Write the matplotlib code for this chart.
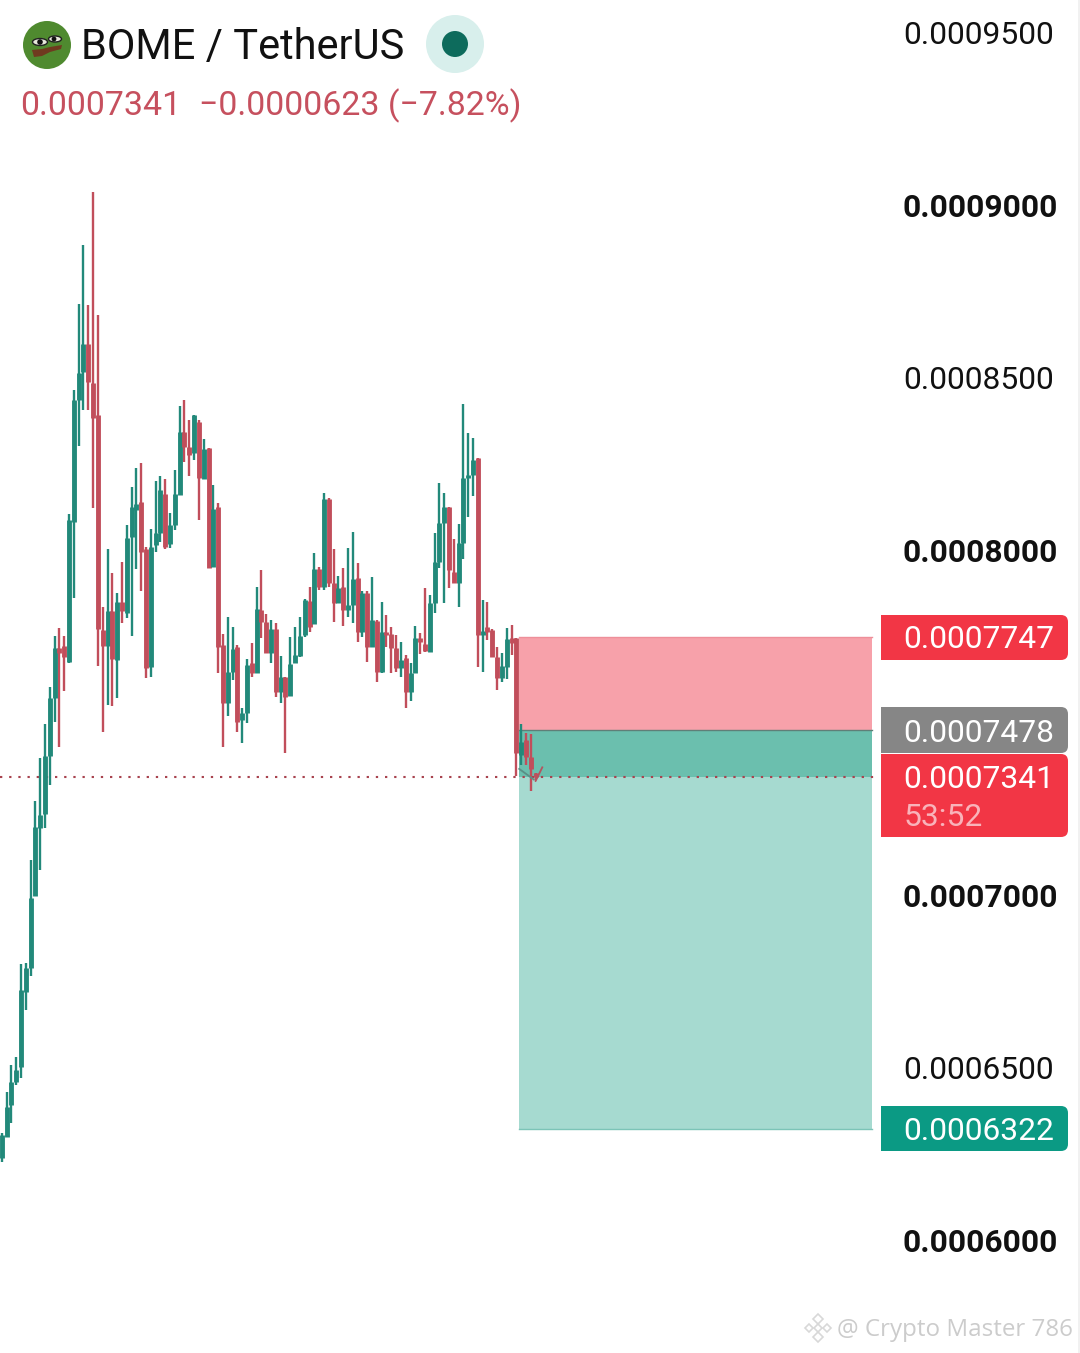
import matplotlib
matplotlib.use("Agg")
import matplotlib.pyplot as plt
import numpy as np
from matplotlib.patches import Circle, Ellipse, FancyBboxPatch, Polygon, Rectangle
from matplotlib.transforms import IdentityTransform

W, H = 1080, 1353
plt.rcParams['font.family'] = ['Roboto', 'DejaVu Sans']

# prices in units of 0.0000001
opens = [6237, 6298, 6390, 6457, 6501, 6718, 6788, 6997, 7194, 7234, 7403, 7571, 7716, 7722, 7675, 8081,
         8435, 8516, 8597, 8484, 8392, 7768, 7722, 7823, 7681, 7849, 7817, 8038, 8116, 8139, 8003, 7661,
         8015, 8049, 8162, 8017, 8072, 8160, 8342, 8299, 8281, 8371, 8206, 8296, 7951, 8125, 7724, 7556,
         7646, 7719, 7507, 7527, 7672, 7643, 7826, 7791, 7701, 7771, 7588, 7632, 7577, 7672, 7693, 7753,
         7852, 7785, 7945, 7893, 8148, 7904, 7846, 7893, 7826, 7840, 7919, 7762, 7875, 7719, 7794, 7646,
         7762, 7756, 7716, 7658, 7687, 7588, 7643, 7745, 7727, 7704, 7846, 7965, 8078, 8125, 7936, 7904,
         8020, 8209, 8218, 8267, 7753, 7777, 7768, 7690, 7629, 7661, 7745, 7745, 7405, 7449, 7400, 7353]
highs = [6309, 6428, 6506, 6530, 6799, 6802, 7101, 7272, 7397, 7495, 7603, 7751, 7774, 7751, 8104, 8464,
         8713, 8885, 8711, 9038, 8682, 7835, 8003, 7933, 7875, 7965, 8072, 8183, 8238, 8252, 8009, 8061,
         8200, 8215, 8206, 8107, 8232, 8418, 8435, 8377, 8392, 8377, 8322, 8296, 8189, 8136, 7756, 7806,
         7777, 7724, 7542, 7684, 7730, 7893, 7942, 7814, 7797, 7788, 7693, 7632, 7748, 7777, 7806, 7858,
         7893, 7991, 7951, 8165, 8151, 8003, 7925, 7948, 8006, 8052, 7962, 7881, 7881, 7922, 7797, 7849,
         7811, 7777, 7753, 7733, 7695, 7672, 7780, 7759, 7890, 7869, 8049, 8194, 8165, 8125, 8032, 8075,
         8423, 8339, 8325, 8267, 7855, 7849, 7771, 7719, 7701, 7774, 7782, 7745, 7495, 7469, 7466, 7353]
lows = [6225, 6298, 6338, 6448, 6469, 6666, 6765, 6997, 7072, 7194, 7318, 7501, 7429, 7591, 7672, 7861,
        8302, 8406, 8406, 8122, 7664, 7472, 7550, 7548, 7571, 7788, 7803, 7751, 7945, 7881, 7629, 7632,
        7994, 8023, 8003, 8006, 8058, 8160, 8255, 8215, 8261, 8087, 8206, 7948, 7951, 7643, 7429, 7519,
        7623, 7472, 7440, 7498, 7632, 7643, 7745, 7701, 7672, 7574, 7556, 7411, 7577, 7672, 7690, 7748,
        7762, 7785, 7884, 7884, 7893, 7791, 7846, 7780, 7806, 7788, 7733, 7748, 7675, 7719, 7617, 7643,
        7719, 7643, 7646, 7632, 7542, 7562, 7643, 7698, 7704, 7704, 7817, 7948, 7846, 7890, 7904, 7835,
        7974, 8096, 8157, 7661, 7646, 7739, 7690, 7594, 7617, 7626, 7695, 7345, 7376, 7376, 7301, 7336]
closes = [6304, 6385, 6457, 6492, 6724, 6788, 6991, 7197, 7231, 7403, 7571, 7716, 7701, 7690, 8087, 8435,
          8513, 8597, 8487, 8383, 7771, 7722, 7823, 7684, 7849, 7823, 8035, 8125, 8133, 7994, 7658, 8009,
          8049, 8174, 8009, 8072, 8162, 8342, 8299, 8276, 8392, 8209, 8293, 7948, 8119, 7719, 7556, 7646,
          7713, 7501, 7527, 7666, 7643, 7829, 7791, 7701, 7771, 7588, 7632, 7574, 7669, 7695, 7751, 7855,
          7777, 7945, 7893, 8148, 7904, 7846, 7890, 7826, 7840, 7916, 7762, 7875, 7719, 7797, 7646, 7762,
          7753, 7716, 7658, 7681, 7588, 7643, 7745, 7733, 7707, 7846, 7965, 8078, 8125, 7942, 7904, 8020,
          8209, 8218, 8261, 7753, 7765, 7762, 7690, 7629, 7664, 7742, 7730, 7411, 7443, 7400, 7365, 7341]

price_ticks = [0.00095, 0.0009, 0.00085, 0.0008, 0.0007, 0.00065, 0.0006]
tick_labels = ['0.0009500', '0.0009000', '0.0008500', '0.0008000', '0.0007000', '0.0006500', '0.0006000']
bold_labels = ['0.0009000', '0.0008000', '0.0007000', '0.0006000']

last_price = 0.0007341
stop_price = 0.0007747
entry_price = 0.0007478
target_price = 0.0006322

GREEN = '#22897a'
RED = '#c14e5b'

o = np.array(opens) * 1e-7
h = np.array(highs) * 1e-7
l = np.array(lows) * 1e-7
c = np.array(closes) * 1e-7
x = np.arange(len(o))
colors = [GREEN if b >= a else RED for a, b in zip(o, c)]

fig = plt.figure(figsize=(W / 100, H / 100), dpi=100, facecolor='white')
ax = fig.add_axes([0, 0, 1, 1])
ax.set_xlim(-0.353, 224.2)
ax.set_ylim(0.00056724, 0.00095942)
for s in ax.spines.values():
    s.set_visible(False)
ax.set_xticks([])

# price axis, labels sit inside the figure
ax.yaxis.tick_right()
ax.set_yticks(price_ticks, tick_labels)
ax.tick_params(axis='y', length=0, pad=-127.5, labelsize=22.9, labelcolor='#111111')
for t in ax.get_yticklabels():
    t.set_ha('left')
    if t.get_text() in bold_labels:
        t.set_fontweight('bold')

# long position tool
box = [107.55, 180.9]
ax.fill_between(box, entry_price, stop_price, color='#f7a1aa', lw=0, zorder=1)
ax.fill_between(box, target_price, entry_price, color='#a6dad0', lw=0, zorder=1)
ax.fill_between(box, last_price, entry_price, color='#6bbfae', lw=0, zorder=1.1)
ax.plot(box, [stop_price, stop_price], color='#ee8f9a', lw=1, zorder=1.2)
ax.plot(box, [entry_price, entry_price], color='#5f7f78', lw=1, zorder=1.2)
ax.plot(box, [target_price, target_price], color='#7cc4b7', lw=1, zorder=1.2)

# candles
ax.vlines(x, l, h, colors=colors, lw=1.7, zorder=3)
ax.vlines(x, np.minimum(o, c), np.maximum(o, c), colors=colors, lw=3.5, zorder=3)

# last price line
ax.plot([-0.353, 181.5], [last_price, last_price], color='#a8424e', lw=1.5,
        ls=(0, (1.1, 3.3)), zorder=2)

# small arrows of the drawing tool
ax.plot([107.6, 110.6], [0.00073655, 0.0007335], color='#5b8f86', lw=1.3, zorder=4)
ax.plot([111, 111.0, 112.4], [0.000735, 0.000733, 0.000737], color='#b5545f', lw=1.3, zorder=4)


def py(y):
    return H - y


def badge(x0, y0, x1, y1, color):
    # square on the left, rounded on the right
    r = 7
    fig.add_artist(FancyBboxPatch((x0 + r, py(y1) + r), x1 - x0 - 2 * r, y1 - y0 - 2 * r,
                                  boxstyle=f'round,pad={r},rounding_size={r}', fc=color, ec='none',
                                  transform=IdentityTransform()))
    fig.add_artist(Rectangle((x0, py(y1)), 20, y1 - y0, fc=color, ec='none', transform=IdentityTransform()))


def label(x0, y0, s, color='white', size=22.9, **kw):
    fig.text(x0 / W, 1 - y0 / H, s, color=color, fontsize=size, va='center', ha='left', **kw)


badge(881, 615, 1068, 660, '#f23645')
badge(881, 707, 1068, 753, '#868686')
badge(881, 754, 1068, 837, '#f23645')
badge(881, 1106, 1068, 1151, '#0b9a84')
label(903, 640, '0.0007747')
label(903, 733, '0.0007478')
label(903, 780, '0.0007341')
label(904, 817, '53:52', color='#f9b3ba')
label(903, 1131, '0.0006322')

# header
label(81, 47, 'BOME / TetherUS', color='#111111', size=30)
label(20, 106, '0.0007341', color='#c6505e', size=24.4)
label(199, 106, '\u22120.0000623 (\u22127.82%)', color='#c6505e', size=24.4)

idt = IdentityTransform()
fig.add_artist(Circle((47, py(45)), 24, fc='#4f8a2f', ec='none', transform=idt))
fig.add_artist(Ellipse((40, py(42)), 15, 7, fc='#e8e8dc', ec='#222222', lw=1, transform=idt))
fig.add_artist(Ellipse((55, py(39)), 13, 6, fc='#e8e8dc', ec='#222222', lw=1, transform=idt))
fig.add_artist(Circle((40, py(42)), 2.8, fc='#111111', ec='none', transform=idt))
fig.add_artist(Circle((54, py(39)), 2.4, fc='#111111', ec='none', transform=idt))
fig.add_artist(Polygon([(32, py(50)), (42, py(49)), (50, py(47)), (62, py(45)), (61, py(49)), (50, py(52)),
                        (42, py(56)), (34, py(57))],
                       fc='#6f3a1f', ec='none', transform=idt))
fig.add_artist(Circle((455, py(44)), 29, fc='#d8efec', ec='none', transform=idt))
fig.add_artist(Circle((455, py(44)), 13, fc='#0d6b5c', ec='none', transform=idt))

# right edge of the screenshot
fig.add_artist(Rectangle((1078, 0), 2, H, fc='#f1f1f1', ec='none', transform=idt))

# watermark
cx, cy = 818, py(1328)
for dx, dy, s in [(0, 9, 5), (0, -9, 5), (-9, 0, 4), (9, 0, 4), (0, 0, 4)]:
    fig.add_artist(Polygon([(cx + dx - s, cy + dy), (cx + dx, cy + dy + s), (cx + dx + s, cy + dy),
                            (cx + dx, cy + dy - s)], fc='none', ec='#d8d8d8', lw=1.2, transform=idt))
fig.text(837 / W, 1 - 1330 / H, '@ Crypto Master 786', color='#cccccc', fontsize=17.4, va='center', ha='left',
         family='Open Sans')

fig.savefig('out.png', dpi=100)
